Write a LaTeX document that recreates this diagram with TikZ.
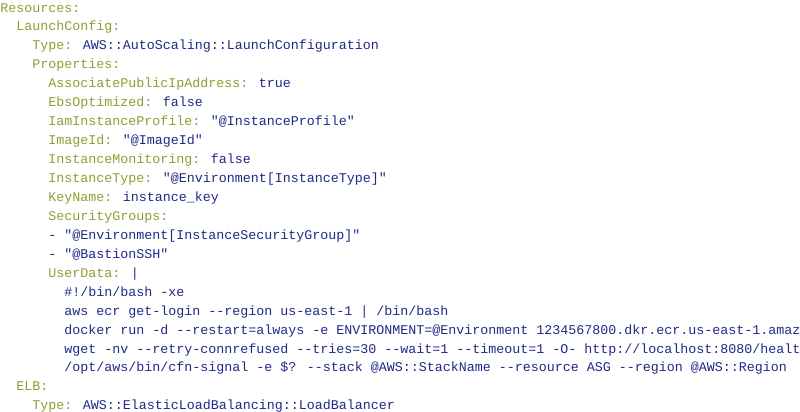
\documentclass[tikz,border=0pt]{standalone}
\usepackage{fontspec}
\newfontfamily\codefont{Liberation Mono}
\definecolor{keyc}{HTML}{939D33}
\definecolor{valc}{HTML}{1F2A87}
\newcommand{\ky}[1]{\textcolor{keyc}{#1}}
\newcommand{\vl}[1]{\textcolor{valc}{#1}}
\tikzset{codeline/.style={anchor=base west,inner sep=0pt,font=\codefont\fontsize{10pt}{12pt}\selectfont}}
\newcommand{\cl}[4]{\node[codeline] (#1) at ({#2*6pt},{-9pt-14.21pt*(#3-1)}) {#4};}
\begin{document}
\begin{tikzpicture}
\useasboundingbox (0,0) rectangle (600pt,-308.25pt);
\clip (0,0) rectangle (600pt,-308.25pt);
\fill[white] (0,0) rectangle (600pt,-308.25pt);
\cl{l1}{0}{1}{\ky{Resources:}}
\cl{l2}{2}{2}{\ky{LaunchConfig:}}
\cl{l3}{4}{3}{\ky{Type:} \vl{AWS::AutoScaling::LaunchConfiguration}}
\cl{l4}{4}{4}{\ky{Properties:}}
\cl{l5}{6}{5}{\ky{AssociatePublicIpAddress:} \vl{true}}
\cl{l6}{6}{6}{\ky{EbsOptimized:} \vl{false}}
\cl{l7}{6}{7}{\ky{IamInstanceProfile:} \vl{"@InstanceProfile"}}
\cl{l8}{6}{8}{\ky{ImageId:} \vl{"@ImageId"}}
\cl{l9}{6}{9}{\ky{InstanceMonitoring:} \vl{false}}
\cl{l10}{6}{10}{\ky{InstanceType:} \vl{"@Environment[InstanceType]"}}
\cl{l11}{6}{11}{\ky{KeyName:} \vl{instance\_key}}
\cl{l12}{6}{12}{\ky{SecurityGroups:}}
\cl{l13}{6}{13}{\vl{- "@Environment[InstanceSecurityGroup]"}}
\cl{l14}{6}{14}{\vl{- "@BastionSSH"}}
\cl{l15}{6}{15}{\ky{UserData:} \vl{|}}
\cl{l16}{8}{16}{\vl{\#!/bin/bash -xe}}
\cl{l17}{8}{17}{\vl{aws ecr get-login -{}-region us-east-1 | /bin/bash}}
\cl{l18}{8}{18}{\vl{docker run -d -{}-restart=always -e ENVIRONMENT=@Environment 1234567800.dkr.ecr.us-east-1.amazonaws.com}}
\cl{l19}{8}{19}{\vl{wget -nv -{}-retry-connrefused -{}-tries=30 -{}-wait=1 -{}-timeout=1 -O- http://localhost:8080/health}}
\cl{l20}{8}{20}{\vl{/opt/aws/bin/cfn-signal -e \$? -{}-stack @AWS::StackName -{}-resource ASG -{}-region @AWS::Region}}
\cl{l21}{2}{21}{\ky{ELB:}}
\cl{l22}{4}{22}{\ky{Type:} \vl{AWS::ElasticLoadBalancing::LoadBalancer}}
\end{tikzpicture}
\end{document}
